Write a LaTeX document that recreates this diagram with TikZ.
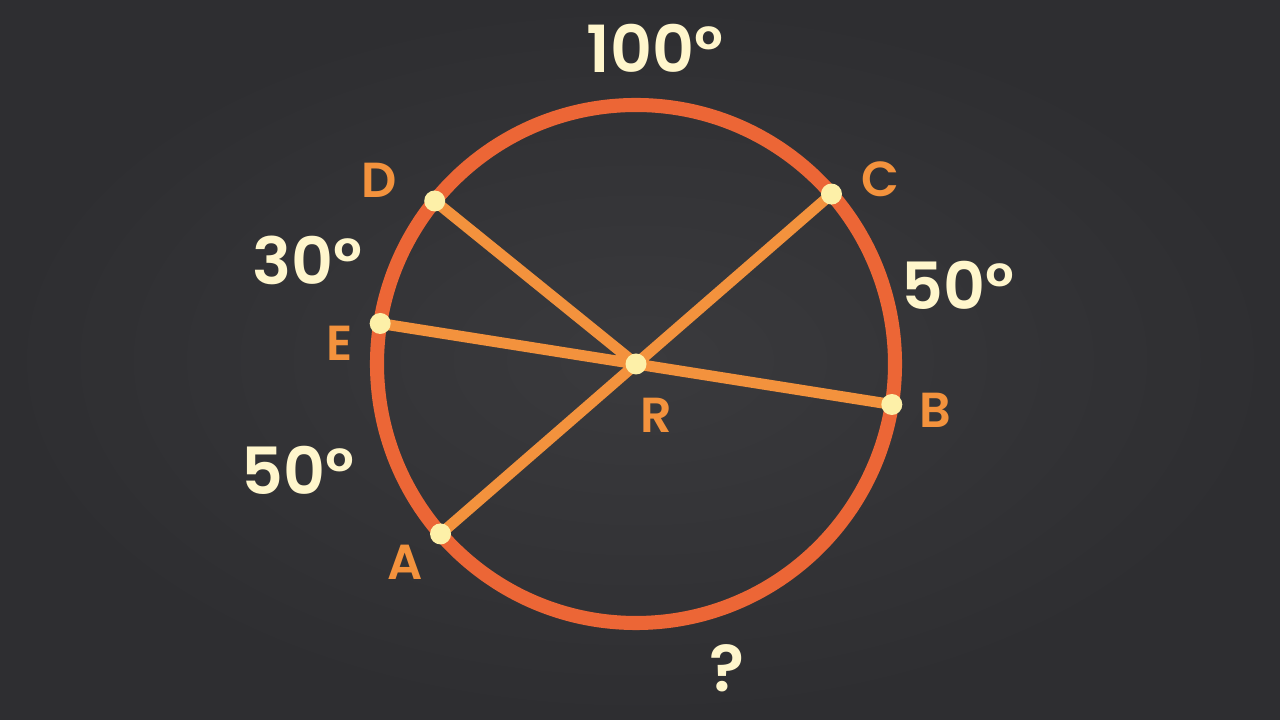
\documentclass[tikz,border=0pt]{standalone}
\usepackage{fontspec}
\setmainfont{Poppins}[BoldFont={Poppins SemiBold}]
\usepackage{xcolor}
\usetikzlibrary{positioning}

\definecolor{board}{HTML}{2E2E31}
\definecolor{boardlight}{HTML}{3A3A3D}
\definecolor{rim}{HTML}{EC6636}
\definecolor{chord}{HTML}{F3923D}
\definecolor{chalk}{HTML}{FFF6CC}
\definecolor{dotcol}{HTML}{FDF0A8}

\begin{document}
\begin{tikzpicture}[node distance=2mm,
	pnt/.style={circle,fill=dotcol,inner sep=0pt,minimum size=2.1mm},
	ptlabel/.style={inner sep=0pt,text=chord,font=\bfseries\fontsize{14}{14}\selectfont},
	arclabel/.style={inner sep=0pt,text=chalk,font=\bfseries\fontsize{18.5}{18.5}\selectfont},
	chd/.style={draw=chord,line width=3.1pt}]
	\shade[inner color=boardlight,outer color=board] (-6.36,-3.56) rectangle (6.44,3.64);
	\useasboundingbox (-6.36,-3.56) rectangle (6.44,3.64);
	
	\draw[rim,line width=4pt] (0,0) circle (2.59);
	
	\coordinate	(R)	at (0,0);
	\coordinate	(C)	at (41:2.59);
	\coordinate	(D)	at (141:2.59);
	\coordinate	(E)	at (171:2.59);
	\coordinate	(A)	at (221:2.59);
	\coordinate	(B)	at (351:2.59);
	
	\path[chd]	(D) -- (R)
				(E) -- (B)
				(A) -- (C);
	
	\node[pnt]	(dR)	at (R)	{};
	\node[pnt]	(dC)	at (C)	{};
	\node[pnt]	(dD)	at (D)	{};
	\node[pnt]	(dE)	at (E)	{};
	\node[pnt]	(dA)	at (A)	{};
	\node[pnt]	(dB)	at (B)	{};
	
	\node[ptlabel]	(lD)	[left=2.6mm of dD,yshift=2.1mm]		{D};
	\node[ptlabel]	(lC)	[right=1.8mm of dC,yshift=1.5mm]	{C};
	\node[ptlabel]	(lE)	[left=1.6mm of dE,yshift=-2mm]		{E};
	\node[ptlabel]	(lB)	[right=1.6mm of dB,yshift=-0.6mm]	{B};
	\node[ptlabel]	(lR)	[below=2.2mm of dR,xshift=2mm]		{R};
	\node[ptlabel]	(lA)	[left=0.6mm of dA,yshift=-2.8mm]	{A};
	
	% arc measures
	\node[arclabel]	(dc)	at (0.19,3.16)		{100°};
	\node[arclabel]	(de)	at (-3.29,1.04)		{30°};
	\node[arclabel]	(cb)	at (3.22,0.79)		{50°};
	\node[arclabel]	(ea)	at (-3.38,-1.06)	{50°};
	\node[arclabel]	(ab)	at (0.91,-3.04)		{?};
\end{tikzpicture}
\end{document}
